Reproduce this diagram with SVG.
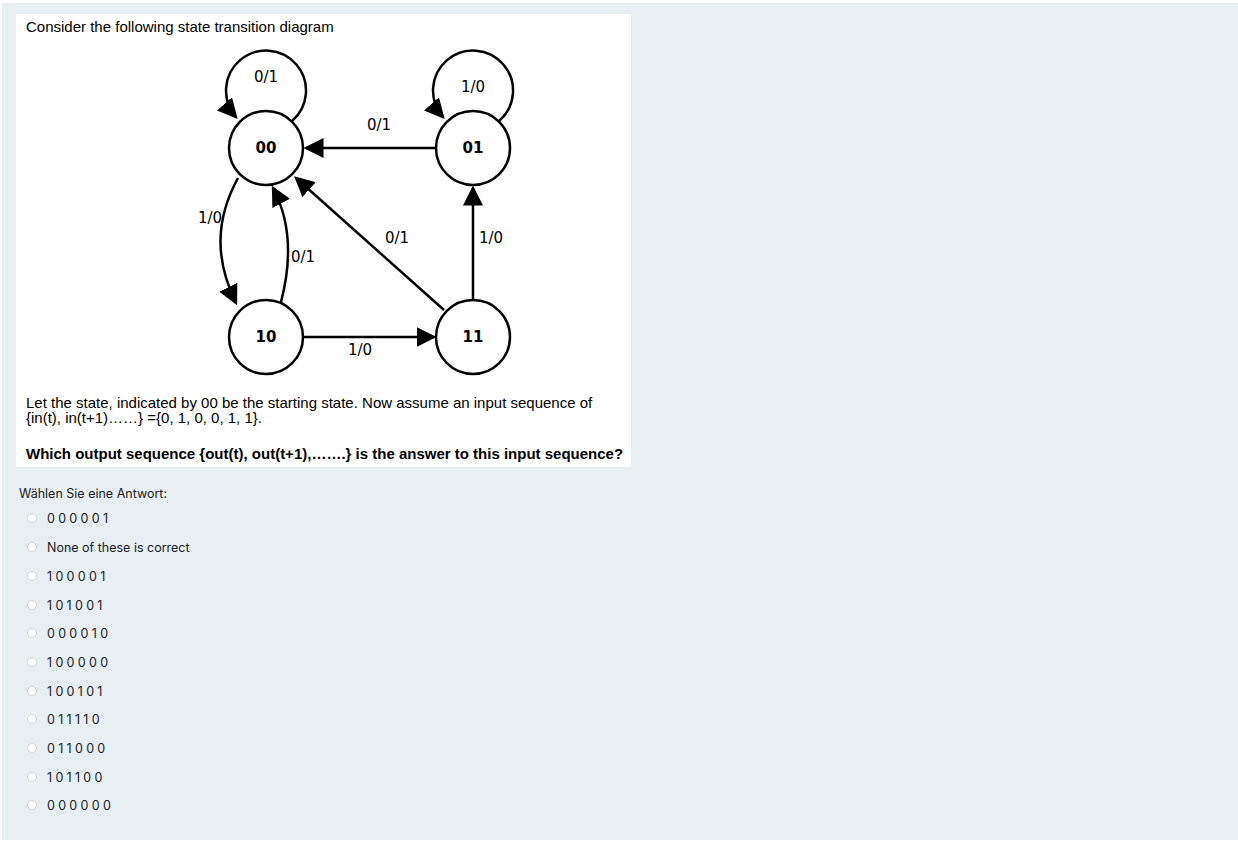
<svg xmlns="http://www.w3.org/2000/svg" width="1238" height="845" viewBox="0 0 1238 845">
<style>
.t{font-family:"Liberation Sans",Arial,sans-serif;font-size:15px;fill:#000}
.d{font-family:"DejaVu Sans",sans-serif;font-size:15px;fill:#000}
.b{font-family:"DejaVu Sans",sans-serif;font-size:15px;font-weight:bold;fill:#000}
.n{fill:#fff;stroke:#000;stroke-width:2.5}
.e{fill:none;stroke:#000;stroke-width:2.5;marker-end:url(#ah)}
.o{font-family:"Inter","Liberation Sans",sans-serif;font-size:12.5px;fill:#1d2125}
.s{letter-spacing:3.3px}
.r{fill:#fff;stroke:#cfd4d8;stroke-width:1}
</style>
<defs><marker id="ah" markerWidth="8" markerHeight="8" refX="7" refY="4" orient="auto" markerUnits="strokeWidth"><path d="M0,0L8,4L0,8z" fill="#000"/></marker></defs>
<rect width="1238" height="845" fill="#fff"/>
<rect x="2" y="3" width="1236" height="837" fill="#e7eff2"/>
<rect x="16" y="14" width="615" height="453" fill="#fff"/>
<text class="t" x="26" y="32">Consider the following state transition diagram</text>
<g id="edges">
<path class="e" d="M292,121 A40,40 0 1 0 236,117"/>
<path class="e" d="M499,121 A40,40 0 1 0 443,117"/>
<path class="e" d="M436,148 L306,148"/>
<path class="e" d="M473,300 L473,188"/>
<path class="e" d="M444,310 L296,178"/>
<path class="e" d="M303,337 L434,337"/>
<path class="e" d="M238,178 C215,220 215,260 236,303"/>
<path class="e" d="M281,302 C292,260 290,220 273,188"/>
</g>
<g id="n00"><circle class="n" cx="266" cy="148" r="37"/><text class="b" x="266" y="153" text-anchor="middle">00</text></g>
<g id="n01"><circle class="n" cx="473" cy="148" r="37"/><text class="b" x="473" y="153" text-anchor="middle">01</text></g>
<g id="n10"><circle class="n" cx="266" cy="337" r="37"/><text class="b" x="266" y="342" text-anchor="middle">10</text></g>
<g id="n11"><circle class="n" cx="473" cy="337" r="37"/><text class="b" x="473" y="342" text-anchor="middle">11</text></g>
<g id="labels">
<text class="d" x="266" y="82" text-anchor="middle">0/1</text>
<text class="d" x="473" y="92" text-anchor="middle">1/0</text>
<text class="d" x="379" y="130" text-anchor="middle">0/1</text>
<text class="d" x="210" y="223" text-anchor="middle">1/0</text>
<text class="d" x="303" y="262" text-anchor="middle">0/1</text>
<text class="d" x="397" y="243" text-anchor="middle">0/1</text>
<text class="d" x="491" y="243" text-anchor="middle">1/0</text>
<text class="d" x="360" y="355" text-anchor="middle">1/0</text>
</g>
<text class="t" x="26" y="408">Let the state, indicated by 00 be the starting state. Now assume an input sequence of</text>
<text class="t" x="26" y="423">{in(t), in(t+1)……} ={0, 1, 0, 0, 1, 1}.</text>
<text class="t" x="26" y="459" font-weight="bold">Which output sequence {out(t), out(t+1),…….} is the answer to this input sequence?</text>
<text class="o" x="19" y="498">Wählen Sie eine Antwort:</text>
<g id="options">
<circle class="r" cx="32" cy="518" r="4.5"/><text class="o s" x="47" y="523">000001</text>
<circle class="r" cx="32" cy="547" r="4.5"/><text class="o" x="47" y="552">None of these is correct</text>
<circle class="r" cx="32" cy="576" r="4.5"/><text class="o s" x="47" y="581">100001</text>
<circle class="r" cx="32" cy="605" r="4.5"/><text class="o s" x="47" y="610">101001</text>
<circle class="r" cx="32" cy="633" r="4.5"/><text class="o s" x="47" y="638">000010</text>
<circle class="r" cx="32" cy="662" r="4.5"/><text class="o s" x="47" y="667">100000</text>
<circle class="r" cx="32" cy="691" r="4.5"/><text class="o s" x="47" y="696">100101</text>
<circle class="r" cx="32" cy="719" r="4.5"/><text class="o s" x="47" y="724">011110</text>
<circle class="r" cx="32" cy="748" r="4.5"/><text class="o s" x="47" y="753">011000</text>
<circle class="r" cx="32" cy="777" r="4.5"/><text class="o s" x="47" y="782">101100</text>
<circle class="r" cx="32" cy="805" r="4.5"/><text class="o s" x="47" y="810">000000</text>
</g>
</svg>
